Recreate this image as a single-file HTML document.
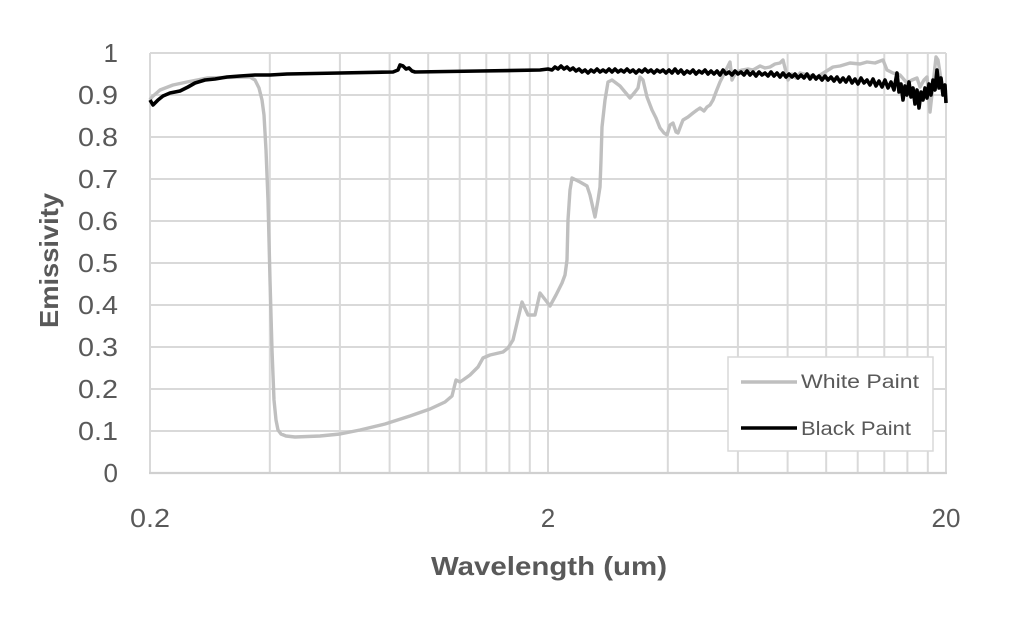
<!DOCTYPE html>
<html>
<head>
<meta charset="utf-8">
<style>
  html,body{margin:0;padding:0;background:#fff;}
  svg{display:block;}
  text{font-family:"Liberation Sans", sans-serif; fill:#595959;}
</style>
</head>
<body>
<svg width="1012" height="626" viewBox="0 0 1012 626" xmlns="http://www.w3.org/2000/svg">
  <rect x="0" y="0" width="1012" height="626" fill="#fff"/>
  <g stroke="#d9d9d9" stroke-width="2" fill="none">
    <line x1="150" y1="53" x2="946" y2="53"/>
    <line x1="150" y1="95" x2="946" y2="95"/>
    <line x1="150" y1="137" x2="946" y2="137"/>
    <line x1="150" y1="179" x2="946" y2="179"/>
    <line x1="150" y1="221" x2="946" y2="221"/>
    <line x1="150" y1="263" x2="946" y2="263"/>
    <line x1="150" y1="305" x2="946" y2="305"/>
    <line x1="150" y1="347" x2="946" y2="347"/>
    <line x1="150" y1="389" x2="946" y2="389"/>
    <line x1="150" y1="431" x2="946" y2="431"/>
    <line x1="150" y1="53" x2="150" y2="473"/>
    <line x1="269.8" y1="53" x2="269.8" y2="473"/>
    <line x1="339.9" y1="53" x2="339.9" y2="473"/>
    <line x1="389.6" y1="53" x2="389.6" y2="473"/>
    <line x1="428.2" y1="53" x2="428.2" y2="473"/>
    <line x1="459.7" y1="53" x2="459.7" y2="473"/>
    <line x1="486.3" y1="53" x2="486.3" y2="473"/>
    <line x1="509.4" y1="53" x2="509.4" y2="473"/>
    <line x1="529.8" y1="53" x2="529.8" y2="473"/>
    <line x1="548" y1="53" x2="548" y2="473"/>
    <line x1="667.8" y1="53" x2="667.8" y2="473"/>
    <line x1="737.9" y1="53" x2="737.9" y2="473"/>
    <line x1="787.6" y1="53" x2="787.6" y2="473"/>
    <line x1="826.2" y1="53" x2="826.2" y2="473"/>
    <line x1="857.7" y1="53" x2="857.7" y2="473"/>
    <line x1="884.3" y1="53" x2="884.3" y2="473"/>
    <line x1="907.4" y1="53" x2="907.4" y2="473"/>
    <line x1="927.8" y1="53" x2="927.8" y2="473"/>
    <line x1="946" y1="53" x2="946" y2="473"/>
  </g>
  <line x1="149" y1="473" x2="947" y2="473" stroke="#d0d0d0" stroke-width="2.2"/>

  <!-- White paint -->
  <polyline fill="none" stroke="#bfbfbf" stroke-width="3.4" stroke-linejoin="round" points="150,100 152,97 160,90 173,85 187,82 207,78 243,77 250,77 255,80 259,88 262,100 264,115 266,150 268,200 270,280 272,350 274,400 276,420 278,430 281,434 286,436 295,437 320,436 340,434 360,430 385,424 410,416 430,409 445,402 452,396 456,380 460,382 463,380 470,375 478,367 483,358 490,355 503,352 508,348 513,340 517,323 522,302 528,315 535,315 540,293 547,302 550,306 556,295 562,283 565,275 567,260 568,220 570,190 572,178 580,182 587,186 590,195 595,217 598,200 600,187 601,160 602,127 605,100 608,82 612,80 620,86 630,98 635,92 638,88 640,77 643,80 647,97 652,110 656,118 660,128 664,133 667,135 670,125 673,123 676,132 678,133 681,125 683,120 688,117 693,113 697,110 700,108 704,111 707,107 710,105 713,100 716,92 720,82 724,74 727,68 730,62 732,80 734,76 737,72 742,70 748,69 753,70 760,66 765,68 770,67 775,64 780,63 783,60 786,72 788,80 792,74 796,78 800,73 808,75 817,77 825,72 833,67 840,66 850,63 860,64 867,62 875,63 883,60 887,70 893,73 900,75 907,83 912,80 917,78 920,87 924,80 927,77 930,112 933,85 936,57 938,60 940,73 943,95 946,90"/>

  <!-- Black paint -->
  <polyline fill="none" stroke="#000" stroke-width="3.6" stroke-linejoin="round" points="150,100 153,105 158,100 163,96 170,93 180,91 188,87 195,83 205,80 215,79 227,77 240,76 255,75 270,75 287,74 340,73 393,72 398,70 400,65 403,66 406,69 409,68 412,71 415,72 480,71 540,70 548,69 552,70 555,67 558,69 561,66 564,69 567,67 570,70 573,68 576,71 579,69 582,72 585,70 588,73 591,70 594,72 597,69 600,72 603,70 606,72 609,69 612,72 615,69 618,72 621,70 624,72 627,69 630,72 633,70 636,73 639,70 642,72 645,69 648,72 651,70 654,73 657,70 660,72 663,70 666,73 669,70 672,73 675,69 678,73 681,70 684,74 687,71 690,73 693,70 696,74 699,71 702,73 705,70 708,74 711,71 714,74 717,71 720,75 723,70 726,74 729,72 732,75 735,71 738,74 741,72 744,75 747,71 750,75 753,72 756,76 759,72 762,75 765,73 768,76 771,72 774,76 777,73 780,77 783,73 786,77 789,74 792,77 795,74 798,78 801,75 804,78 807,74 810,79 813,75 816,79 819,76 822,80 825,76 828,80 831,77 834,81 837,77 840,82 843,78 846,82 849,77 852,83 855,79 858,84 861,78 864,83 867,80 870,85 873,79 876,86 879,81 882,87 885,80 888,88 891,82 894,90 897,73 899,92 901,84 903,100 905,86 907,95 909,82 911,97 913,88 915,104 917,90 919,108 921,92 923,100 925,88 927,98 929,84 931,95 933,80 935,90 937,70 939,88 941,78 943,95 945,85 946,103"/>

  <!-- Y tick labels -->
  <g font-size="26" text-anchor="end">
    <text x="118" y="62">1</text>
    <text x="118" y="104" textLength="40" lengthAdjust="spacingAndGlyphs">0.9</text>
    <text x="118" y="146" textLength="40" lengthAdjust="spacingAndGlyphs">0.8</text>
    <text x="118" y="188" textLength="40" lengthAdjust="spacingAndGlyphs">0.7</text>
    <text x="118" y="230" textLength="40" lengthAdjust="spacingAndGlyphs">0.6</text>
    <text x="118" y="272" textLength="40" lengthAdjust="spacingAndGlyphs">0.5</text>
    <text x="118" y="314" textLength="40" lengthAdjust="spacingAndGlyphs">0.4</text>
    <text x="118" y="356" textLength="40" lengthAdjust="spacingAndGlyphs">0.3</text>
    <text x="118" y="398" textLength="40" lengthAdjust="spacingAndGlyphs">0.2</text>
    <text x="118" y="440" textLength="40" lengthAdjust="spacingAndGlyphs">0.1</text>
    <text x="118" y="482">0</text>
  </g>

  <!-- X tick labels -->
  <g font-size="26">
    <text x="130" y="527" textLength="40" lengthAdjust="spacingAndGlyphs">0.2</text>
    <text x="548" y="527" text-anchor="middle">2</text>
    <text x="946" y="527" text-anchor="middle">20</text>
  </g>

  <!-- Axis titles -->
  <text x="431" y="575" font-size="26" font-weight="bold" textLength="236" lengthAdjust="spacingAndGlyphs">Wavelength (um)</text>
  <text transform="translate(58,328) rotate(-90)" x="0" y="0" font-size="26" font-weight="bold" textLength="135" lengthAdjust="spacingAndGlyphs">Emissivity</text>

  <!-- Legend -->
  <rect x="728" y="357" width="205" height="94" fill="#fff" stroke="#d9d9d9" stroke-width="1.5"/>
  <line x1="741" y1="382" x2="797" y2="382" stroke="#bfbfbf" stroke-width="3.4"/>
  <line x1="741" y1="428" x2="797" y2="428" stroke="#000" stroke-width="3.6"/>
  <text x="801" y="388" font-size="19" textLength="118" lengthAdjust="spacingAndGlyphs">White Paint</text>
  <text x="801" y="435" font-size="19" textLength="110" lengthAdjust="spacingAndGlyphs">Black Paint</text>
</svg>
</body>
</html>
